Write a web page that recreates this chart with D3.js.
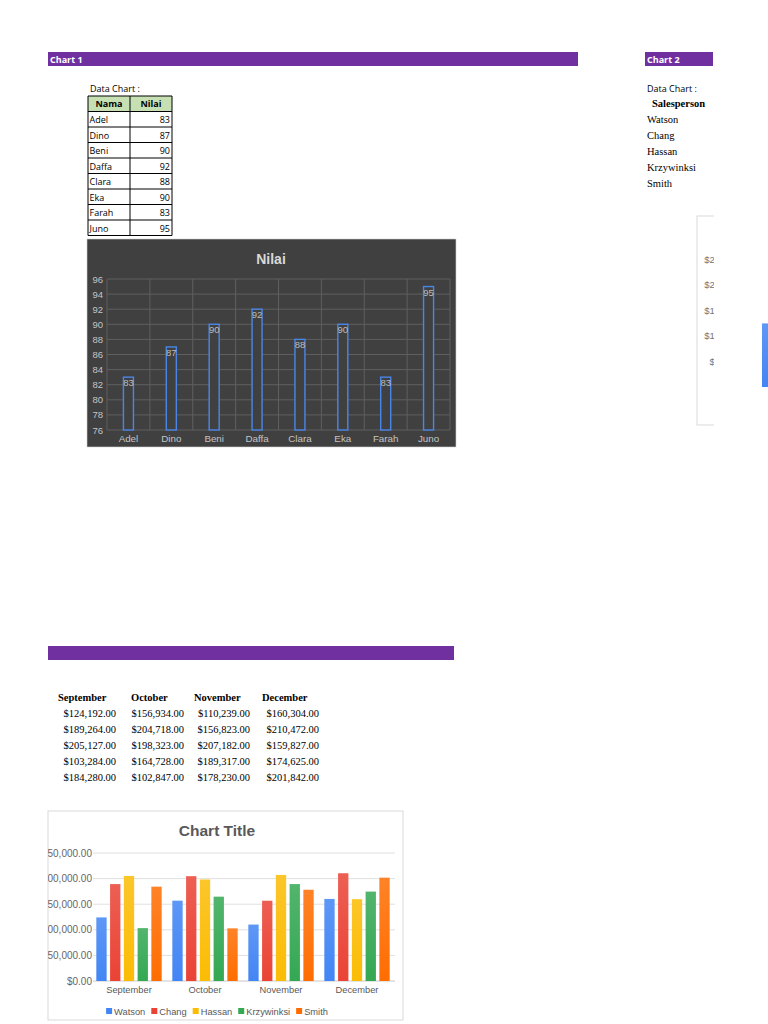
<!DOCTYPE html>
<html>
<head>
<meta charset="UTF-8">
<title>Chart</title>
<script src="https://d3js.org/d3.v7.min.js"></script>
<style>
  body { margin: 0; background: #fff; }
  svg { display: block; }
</style>
</head>
<body>
<svg id="page" width="768" height="1024"></svg>
<script>
// data
var names = ["Adel", "Dino", "Beni", "Daffa", "Clara", "Eka", "Farah", "Juno"];
var nilai = [83, 87, 90, 92, 88, 90, 83, 95];
var nilaiTicks = [76, 78, 80, 82, 84, 86, 88, 90, 92, 94, 96];

var months = ["September", "October", "November", "December"];
var salespeople = ["Watson", "Chang", "Hassan", "Krzywinksi", "Smith"];
var watson = [124192, 156934, 110239, 160304];
var chang = [189264, 204718, 156823, 210472];
var hassan = [205127, 198323, 207182, 159827];
var krzywinksi = [103284, 164728, 189317, 174625];
var smith = [184280, 102847, 178230, 201842];
var salesTicks = [0, 50000, 100000, 150000, 200000, 250000];
var seriesColors = ["#4285f4", "#ea4335", "#fbbc04", "#34a853", "#ff6d01"];

var sales = [watson, chang, hassan, krzywinksi, smith];

var svg = d3.select("#page");
var defs = svg.append("defs");
var money = d3.format("$,.2f");
var arial = "Liberation Sans, Arial, sans-serif";
var sans = "Open Sans, sans-serif";
var serif = "Liberation Serif, Times New Roman, serif";

// gradients for the bars (lighter at top)
seriesColors.forEach(function(c, i) {
    var g = defs.append("linearGradient").attr("id", "grad" + i)
        .attr("x1", 0).attr("y1", 0).attr("x2", 0).attr("y2", 1);
    g.append("stop").attr("offset", "0%").attr("stop-color", d3.interpolateRgb(c, "#fff")(0.15));
    g.append("stop").attr("offset", "100%").attr("stop-color", c);
});

// purple header bars
function header(x, w, y, label) {
    svg.append("rect").attr("x", x).attr("y", y).attr("width", w).attr("height", 14).attr("fill", "#7030a0");
    if (label) {
        svg.append("text").attr("x", x + 2).attr("y", y + 10.5).text(label)
            .attr("fill", "#fff").attr("font-family", sans)
            .attr("font-size", 9).attr("font-weight", "bold");
    }
}
header(48, 530, 52, "Chart 1");
header(645, 68, 52, "Chart 2");
header(48, 406, 646, null);

// ---------- Chart 1 data table ----------
svg.append("text").attr("x", 90).attr("y", 91.5).text("Data Chart :")
    .attr("font-family", sans).attr("font-size", 9).attr("fill", "#000");

var tx = 88, tw1 = 42, tw2 = 42, ty = 96, rh = 15.5;
svg.append("rect").attr("x", tx).attr("y", ty).attr("width", tw1 + tw2).attr("height", rh)
    .attr("fill", "#c6e0b4");
svg.append("text").attr("x", tx + tw1 / 2).attr("y", ty + 11).text("Nama")
    .attr("text-anchor", "middle").attr("font-family", sans).attr("font-size", 9).attr("font-weight", "bold");
svg.append("text").attr("x", tx + tw1 + tw2 / 2).attr("y", ty + 11).text("Nilai")
    .attr("text-anchor", "middle").attr("font-family", sans).attr("font-size", 9).attr("font-weight", "bold");

names.forEach(function(n, i) {
    var y = ty + rh * (i + 1);
    svg.append("text").attr("x", tx + 1.5).attr("y", y + 11.5).text(n)
        .attr("font-family", sans).attr("font-size", 9);
    svg.append("text").attr("x", tx + tw1 + tw2 - 2).attr("y", y + 11.5).text(nilai[i])
        .attr("text-anchor", "end").attr("font-family", sans).attr("font-size", 9);
});
var tgrid = svg.append("g").attr("stroke", "#000").attr("stroke-width", 1).attr("fill", "none");
for (var r = 0; r <= names.length + 1; r++) {
    tgrid.append("line").attr("x1", tx).attr("x2", tx + tw1 + tw2)
        .attr("y1", ty + r * rh).attr("y2", ty + r * rh);
}
[tx, tx + tw1, tx + tw1 + tw2].forEach(function(x) {
    tgrid.append("line").attr("x1", x).attr("x2", x).attr("y1", ty).attr("y2", ty + rh * (names.length + 1));
});

// ---------- Chart 1: Nilai ----------
var c1 = svg.append("g");
c1.append("rect").attr("x", 87).attr("y", 239).attr("width", 369).attr("height", 208)
    .attr("fill", "#404040").attr("stroke", "#d0d0d0").attr("stroke-width", 0.6);
c1.append("text").attr("x", 271).attr("y", 264).text("Nilai")
    .attr("text-anchor", "middle").attr("font-family", arial)
    .attr("font-size", 14).attr("font-weight", "bold").attr("fill", "#d9d9d9");

var x1 = d3.scaleBand().domain(names).range([107, 450]);
var y1 = d3.scaleLinear().domain([76, 96]).range([430, 279]);

c1.selectAll("line.h").data(nilaiTicks).join("line")
    .attr("x1", 107).attr("x2", 450)
    .attr("y1", function(d) { return y1(d); }).attr("y2", function(d) { return y1(d); })
    .attr("stroke", "#5f5f5f").attr("stroke-width", 1);
var bounds = names.map(function(n) { return x1(n); }).concat([450]);
c1.selectAll("line.v").data(bounds).join("line")
    .attr("x1", function(d) { return d; }).attr("x2", function(d) { return d; })
    .attr("y1", 279).attr("y2", 430)
    .attr("stroke", "#5f5f5f").attr("stroke-width", 1);

c1.selectAll("text.yl").data(nilaiTicks).join("text")
    .attr("x", 103).attr("y", function(d) { return y1(d) + 3.5; })
    .attr("text-anchor", "end").text(function(d) { return d; })
    .attr("font-family", arial).attr("font-size", 9.5).attr("fill", "#c4c4c4");
c1.selectAll("text.xl").data(names).join("text")
    .attr("x", function(d) { return x1(d) + x1.bandwidth() / 2; }).attr("y", 441.5)
    .attr("text-anchor", "middle").text(function(d) { return d; })
    .attr("font-family", arial).attr("font-size", 9.8).attr("fill", "#c4c4c4");

var bw1 = 10;
c1.selectAll("rect.bar").data(nilai).join("rect")
    .attr("x", function(d, i) { return x1(names[i]) + x1.bandwidth() / 2 - bw1 / 2; })
    .attr("y", function(d) { return y1(d); })
    .attr("width", bw1).attr("height", function(d) { return 430 - y1(d); })
    .attr("fill", "#404040").attr("stroke", "#4a86e8").attr("stroke-width", 1.4);
c1.selectAll("text.val").data(nilai).join("text")
    .attr("x", function(d, i) { return x1(names[i]) + x1.bandwidth() / 2; })
    .attr("y", function(d) { return y1(d) + 9; })
    .attr("text-anchor", "middle").text(function(d) { return d; })
    .attr("font-family", arial).attr("font-size", 9.5).attr("fill", "#bdbdbd");

// ---------- Chart 2 header text (cut off at page edge) ----------
svg.append("text").attr("x", 647).attr("y", 91.5).text("Data Chart :")
    .attr("font-family", sans).attr("font-size", 9);
svg.append("text").attr("x", 652).attr("y", 107).text("Salesperson")
    .attr("font-family", serif).attr("font-size", 10.5).attr("font-weight", "bold");
salespeople.forEach(function(s, i) {
    svg.append("text").attr("x", 647).attr("y", 123 + i * 16).text(s)
        .attr("font-family", serif).attr("font-size", 10.5);
});

// partial chart 2 (clipped)
defs.append("clipPath").attr("id", "clip2").append("rect")
    .attr("x", 690).attr("y", 200).attr("width", 24).attr("height", 240);
var y2 = d3.scaleLinear().domain([0, 250000]).range([387, 259]);
var c2 = svg.append("g").attr("clip-path", "url(#clip2)");
c2.append("rect").attr("x", 697).attr("y", 216).attr("width", 200).attr("height", 209)
    .attr("fill", "#fff").attr("stroke", "#d9d9d9").attr("stroke-width", 1);
c2.selectAll("text").data(salesTicks).join("text")
    .attr("x", 757).attr("y", function(d) { return y2(d) + 3.5; })
    .attr("text-anchor", "end").text(function(d) { return money(d); })
    .attr("font-family", arial).attr("font-size", 9.5).attr("fill", "#757575");
svg.append("rect").attr("x", 762).attr("y", y2(watson[0])).attr("width", 10)
    .attr("height", 387 - y2(watson[0])).attr("fill", "url(#grad0)");

// ---------- bottom data table ----------
var colLeft = [58, 131, 194, 262];
var colRight = [116, 184, 250, 319];
months.forEach(function(m, j) {
    svg.append("text").attr("x", colLeft[j]).attr("y", 701).text(m)
        .attr("font-family", serif).attr("font-size", 10.5).attr("font-weight", "bold");
    sales.forEach(function(row, i) {
        svg.append("text").attr("x", colRight[j]).attr("y", 717 + i * 16).text(money(row[j]))
            .attr("text-anchor", "end").attr("font-family", serif).attr("font-size", 10.5);
    });
});

// ---------- bottom chart ----------
var c3 = svg.append("g");
c3.append("rect").attr("x", 48).attr("y", 811).attr("width", 355).attr("height", 209)
    .attr("fill", "#fff").attr("stroke", "#d9d9d9").attr("stroke-width", 1);
c3.append("text").attr("x", 217).attr("y", 836).text("Chart Title")
    .attr("text-anchor", "middle").attr("font-family", arial)
    .attr("font-size", 15.5).attr("font-weight", "bold").attr("fill", "#595959");

var x3 = d3.scaleBand().domain(months).range([91, 395]).paddingInner(0.14).paddingOuter(0.07);
var xs = d3.scaleBand().domain(salespeople).range([0, x3.bandwidth()]).paddingInner(0.25);
var y3 = d3.scaleLinear().domain([0, 250000]).range([981, 853]);

c3.selectAll("line.g").data(salesTicks).join("line")
    .attr("x1", 93).attr("x2", 395)
    .attr("y1", function(d) { return y3(d); }).attr("y2", function(d) { return y3(d); })
    .attr("stroke", function(d) { return d === 0 ? "#c8c8c8" : "#e0e0e0"; }).attr("stroke-width", 1);

defs.append("clipPath").attr("id", "clip3").append("rect")
    .attr("x", 48).attr("y", 811).attr("width", 355).attr("height", 209);
c3.append("g").attr("clip-path", "url(#clip3)")
    .selectAll("text").data(salesTicks).join("text")
    .attr("x", 92).attr("y", function(d) { return y3(d) + 3.5; })
    .attr("text-anchor", "end").text(function(d) { return money(d); })
    .attr("font-family", arial).attr("font-size", 10).attr("fill", "#666");

var groups = c3.selectAll("g.m").data(months).join("g")
    .attr("transform", function(d) { return "translate(" + x3(d) + ",0)"; });
groups.selectAll("rect").data(function(d, j) {
        return sales.map(function(row, i) { return { i: i, v: row[j] }; });
    }).join("rect")
    .attr("x", function(d) { return xs(salespeople[d.i]); })
    .attr("y", function(d) { return y3(d.v); })
    .attr("width", xs.bandwidth())
    .attr("height", function(d) { return 981 - y3(d.v); })
    .attr("fill", function(d) { return "url(#grad" + d.i + ")"; });

c3.selectAll("text.mx").data(months).join("text")
    .attr("x", function(d) { return x3(d) + x3.bandwidth() / 2; }).attr("y", 993)
    .attr("text-anchor", "middle").text(function(d) { return d; })
    .attr("font-family", arial).attr("font-size", 9.3).attr("fill", "#595959");

// legend, centred under the plot
var legend = c3.append("g");
var lx = 0;
salespeople.forEach(function(s, i) {
    legend.append("rect").attr("x", lx).attr("y", 1008).attr("width", 6).attr("height", 6)
        .attr("fill", seriesColors[i]);
    var t = legend.append("text").attr("x", lx + 8).attr("y", 1014.5).text(s)
        .attr("font-family", arial).attr("font-size", 9.3).attr("fill", "#595959");
    lx += 8 + t.node().getComputedTextLength() + 6;
});
legend.attr("transform", "translate(" + (217 - (lx - 6) / 2) + ",0)");
</script>
</body>
</html>
